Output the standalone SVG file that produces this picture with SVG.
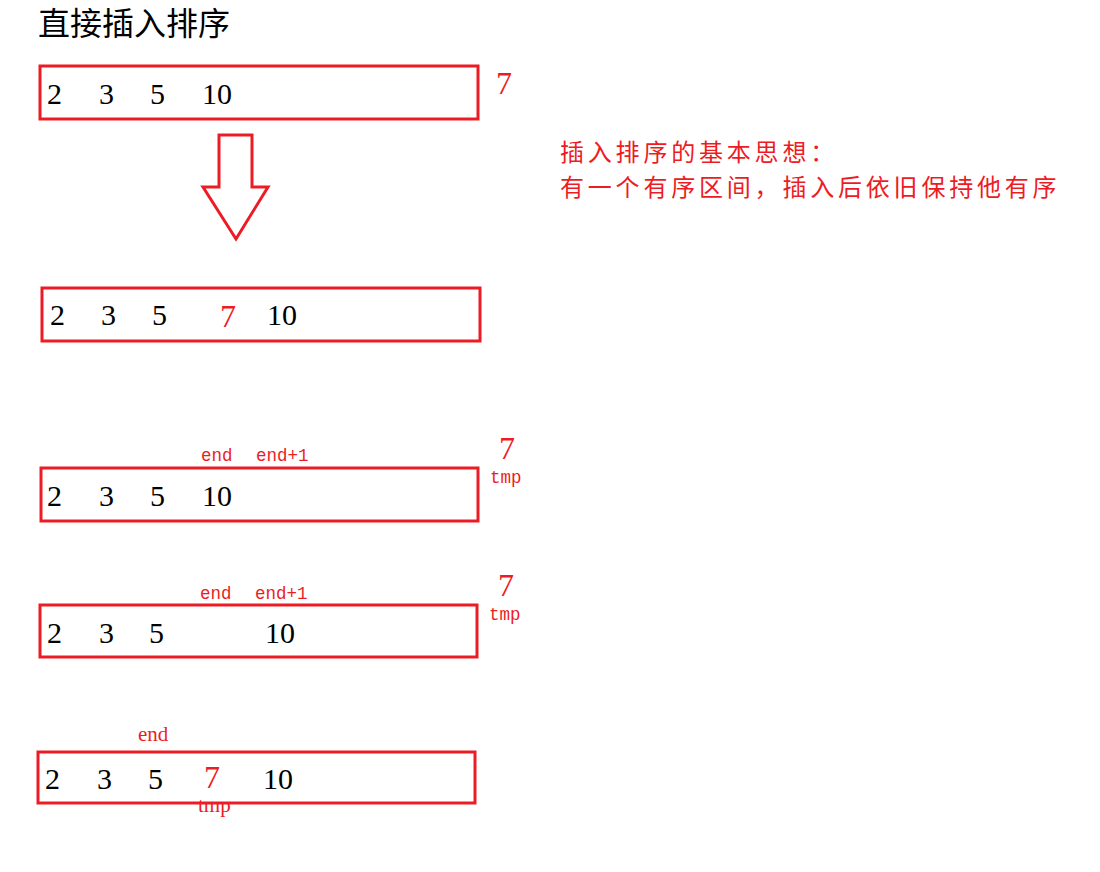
<svg xmlns="http://www.w3.org/2000/svg" width="1100" height="872" viewBox="0 0 1100 872">
<style>
.box{fill:none;stroke:#ed1c24;stroke-width:3}
.num{font-family:"Liberation Serif",serif;font-size:30px;fill:#000}
.r7{font-family:"Liberation Serif",serif;font-size:32px;fill:#ed1c24}
.lbl{font-family:"Liberation Mono","DejaVu Sans Mono",monospace;font-size:17.5px;fill:#ed1c24}
.lbls{font-family:"Liberation Serif",serif;font-size:21px;fill:#ed1c24}
.cn{font-family:"Noto Sans CJK SC",sans-serif;font-size:24px;letter-spacing:3.8px;fill:#ed1c24}
</style>
<rect width="1100" height="872" fill="#fff"/>
<text x="38" y="35" font-family="'Noto Sans CJK SC',sans-serif" font-size="32" fill="#000">直接插入排序</text>
<g id="row1">
<rect class="box" x="40" y="66" width="438" height="53"/>
<text class="num" y="104"><tspan x="47">2</tspan><tspan x="99">3</tspan><tspan x="150">5</tspan><tspan x="202">10</tspan></text>
<text class="r7" x="496" y="94">7</text>
</g>
<g id="arrow">
<polygon points="219,135 252,135 252,187 268,187 236,239 203,187 219,187" fill="none" stroke="#ed1c24" stroke-width="3"/>
</g>
<g id="note">
<text class="cn" x="560" y="161">插入排序的基本思想：</text>
<text class="cn" x="560" y="196">有一个有序区间，插入后依旧保持他有序</text>
</g>
<g id="row2">
<rect class="box" x="42" y="288" width="438" height="53"/>
<text class="num" y="325"><tspan x="50">2</tspan><tspan x="101">3</tspan><tspan x="152">5</tspan><tspan x="267">10</tspan></text>
<text class="r7" x="220" y="327">7</text>
</g>
<g id="row3">
<rect class="box" x="41" y="468" width="437" height="53"/>
<text class="num" y="506"><tspan x="47">2</tspan><tspan x="99">3</tspan><tspan x="150">5</tspan><tspan x="202">10</tspan></text>
<text class="lbl" x="201" y="461">end</text>
<text class="lbl" x="256" y="461">end+1</text>
<text class="r7" x="499" y="459">7</text>
<text class="lbl" x="490" y="483">tmp</text>
</g>
<g id="row4">
<rect class="box" x="40" y="605" width="437" height="52"/>
<text class="num" y="643"><tspan x="47">2</tspan><tspan x="99">3</tspan><tspan x="149">5</tspan><tspan x="265">10</tspan></text>
<text class="lbl" x="200" y="599">end</text>
<text class="lbl" x="255" y="599">end+1</text>
<text class="r7" x="498" y="596">7</text>
<text class="lbl" x="489" y="620">tmp</text>
</g>
<g id="row5">
<rect class="box" x="38" y="752" width="437" height="51"/>
<text class="num" y="789"><tspan x="45">2</tspan><tspan x="97">3</tspan><tspan x="148">5</tspan><tspan x="263">10</tspan></text>
<text class="r7" x="204" y="788">7</text>
<text class="lbls" x="138" y="741">end</text>
<text class="lbls" x="198" y="812">tmp</text>
</g>
</svg>
